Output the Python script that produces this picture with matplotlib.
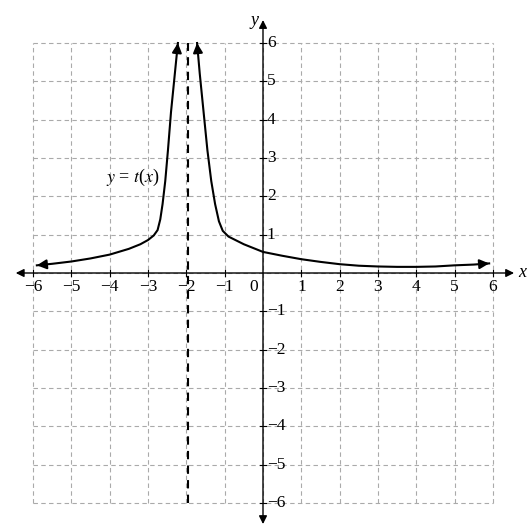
import matplotlib.pyplot as plt

plt.rcParams['font.family'] = ['Liberation Serif', 'DejaVu Serif']

left_x = [-5.9, -5.5, -5, -4.5, -4, -3.5, -3.2, -3, -2.85, -2.75, -2.68, -2.62, -2.55, -2.48, -2.4, -2.3, -2.22]
left_y = [0.2, 0.24, 0.3, 0.38, 0.48, 0.63, 0.75, 0.86, 0.98, 1.12, 1.4, 1.8, 2.4, 3.2, 4.2, 5.2, 6.0]
right_x = [-1.72, -1.65, -1.55, -1.45, -1.35, -1.25, -1.15, -1.05, -0.9, -0.5, 0, 0.5, 1, 1.5, 2, 2.5, 3, 3.5, 4, 4.5, 5, 5.5, 5.9]
right_y = [6.0, 5.2, 4.2, 3.2, 2.4, 1.8, 1.35, 1.1, 0.95, 0.75, 0.55, 0.45, 0.36, 0.29, 0.23, 0.19, 0.17, 0.16, 0.16, 0.17, 0.2, 0.22, 0.25]
asymptote_x = -1.95
ticks = [t for t in range(-6, 7) if t != 0]

W, H = 529, 527
fig = plt.figure(figsize=(W / 100, H / 100), dpi=100)
x0, x1 = -6.5, 6.8
y0, y1 = -6.6, 6.7
ppu = 38.33
px_l = 263 + x0 * ppu
ax = fig.add_axes([px_l / W, 1 - (273 - y0 * ppu) / H, (x1 - x0) * ppu / W, (y1 - y0) * ppu / H])
ax.set_xlim(x0, x1)
ax.set_ylim(y0, y1)
ax.axis('off')

for t in range(-6, 7):
    ax.plot([t, t], [-6, 6], color='#aaaaaa', ls=(0, (4, 3)), lw=0.8, zorder=0)
    ax.plot([-6, 6], [t, t], color='#aaaaaa', ls=(0, (4, 3)), lw=0.8, zorder=0)

arrow = dict(arrowstyle='<|-|>', color='black', lw=1.0, mutation_scale=12, shrinkA=0, shrinkB=0)
ax.annotate('', xy=(-6.45, 0), xytext=(6.55, 0), arrowprops=arrow)
ax.annotate('', xy=(0, -6.55), xytext=(0, 6.6), arrowprops=arrow)

for t in ticks:
    ax.plot([t, t], [-0.08, 0.08], color='black', lw=0.8)
    ax.plot([-0.08, 0.08], [t, t], color='black', lw=0.8)
    lab = str(t).replace('-', '\u2212')
    ax.text(t, -0.15, lab, ha='center', va='top', fontsize=12.5)
    ax.text(0.1, t, lab, ha='left', va='center', fontsize=12.5)
ax.text(-0.12, -0.15, '0', ha='right', va='top', fontsize=12.5)
ax.text(6.65, 0, 'x', style='italic', ha='left', va='center', fontsize=13)
ax.text(-0.12, 6.6, 'y', style='italic', ha='right', va='center', fontsize=13)

ax.plot([asymptote_x, asymptote_x], [-6, 6], color='black', ls=(0, (4, 3)), lw=1.5)

ax.plot(left_x, left_y, color='black', lw=1.5, solid_joinstyle='round')
ax.plot(right_x, right_y, color='black', lw=1.5, solid_joinstyle='round')
head = dict(arrowstyle='-|>', color='black', lw=1.5, mutation_scale=14, shrinkA=0, shrinkB=0)


def tip(xs, ys, i, j):
    # short segment along the curve so only the head shows
    dx, dy = xs[i] - xs[j], ys[i] - ys[j]
    ax.annotate('', xy=(xs[i], ys[i]), xytext=(xs[i] - dx * 0.3, ys[i] - dy * 0.3), arrowprops=head)


tip(left_x, left_y, 0, 1)
tip(left_x, left_y, -1, -2)
tip(right_x, right_y, 0, 1)
tip(right_x, right_y, -1, -2)

ax.text(-3.4, 2.5, r'$y$ = $t$($x$)', fontsize=13, ha='center', va='center',
        math_fontfamily='stix')

fig.savefig('out.png', dpi=100)
